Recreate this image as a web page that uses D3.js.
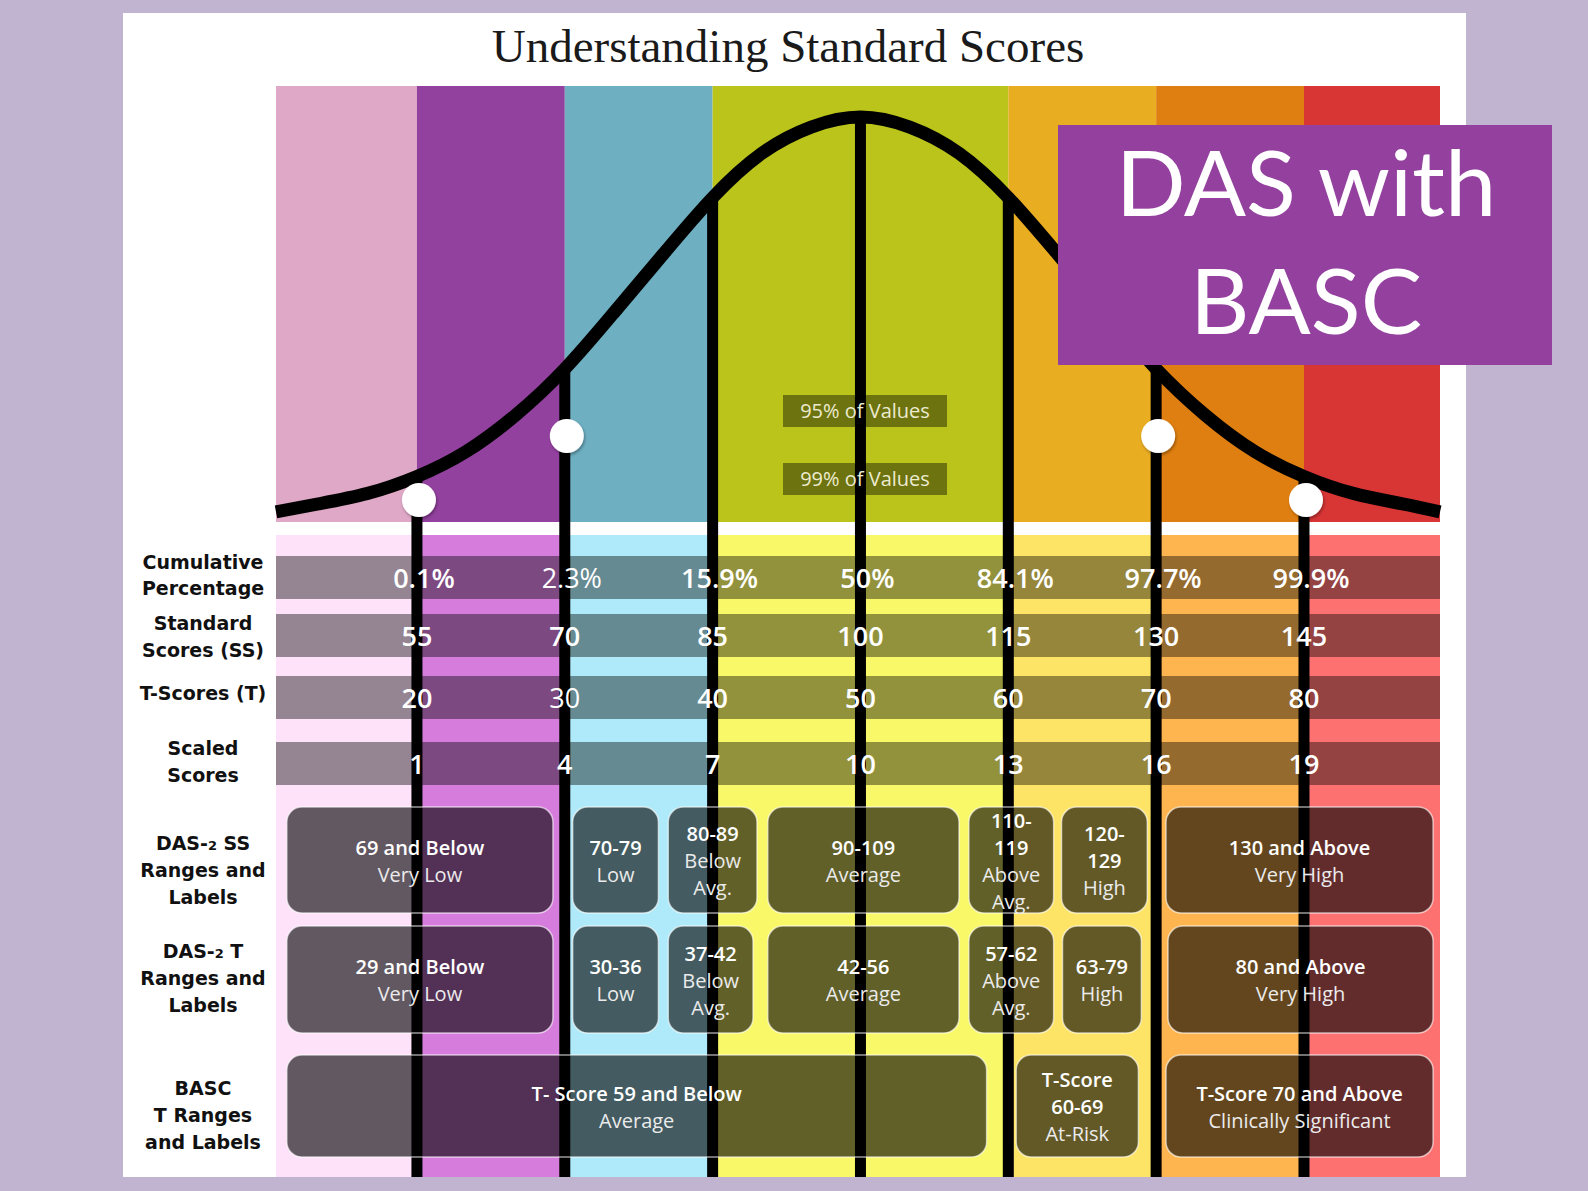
<!DOCTYPE html>
<html><head><meta charset="utf-8">
<script src="https://cdn.jsdelivr.net/npm/d3@7"></script>
<style>html,body{margin:0;padding:0;background:#c1b4d0;} svg{display:block}</style>
</head><body><svg id="c" width="1588" height="1191"></svg>
<script>
// ---------------- DATA ----------------
const title = "Understanding Standard Scores";
const badge = ["DAS with", "BASC"];
const bandEdges = [40.7, 55, 70, 85, 115, 130, 145, 158.8];
const topColors = ["#dea8c6", "#93419f", "#6eafc2", "#bac41b", "#e9ad22", "#e07f11", "#d83535"];
const bottomColors = ["#fde2fa", "#d57cdc", "#aeeaf9", "#f9f868", "#fee466", "#feb54f", "#fe7171"];
const curveScores = [40.7, 45, 50, 55, 60, 65, 70, 75, 80, 85, 90, 95, 100, 105, 110, 115, 120, 125, 130, 135, 140, 145, 150, 155, 158.8];
const curveHeights = [0.02, 0.04, 0.066, 0.108, 0.17, 0.26, 0.375, 0.515, 0.66, 0.80, 0.91, 0.975, 1.0, 0.975, 0.91, 0.80, 0.66, 0.515, 0.375, 0.26, 0.17, 0.108, 0.066, 0.04, 0.02];
const markerScores = [55, 70, 85, 100, 115, 130, 145];
const cumulative = ["0.1%", "2.3%", "15.9%", "50%", "84.1%", "97.7%", "99.9%"];
const standardScores = ["55", "70", "85", "100", "115", "130", "145"];
const tScores = ["20", "30", "40", "50", "60", "70", "80"];
const scaledScores = ["1", "4", "7", "10", "13", "16", "19"];
const intervals = [
  {label: "95% of Values", lo: 70, hi: 130},
  {label: "99% of Values", lo: 55, hi: 145}
];
const rowLabels = [["Cumulative", "Percentage"], ["Standard", "Scores (SS)"], ["T-Scores (T)"], ["Scaled", "Scores"]];
const rangeRowLabels = [["DAS-2 SS", "Ranges and", "Labels"], ["DAS-2 T", "Ranges and", "Labels"], ["BASC", "T Ranges", "and Labels"]];
const das2SS = [
  {lo: 41.8, hi: 68.8, main: ["69 and Below"], sub: ["Very Low"]},
  {lo: 70.8, hi: 79.5, main: ["70-79"], sub: ["Low"]},
  {lo: 80.5, hi: 89.5, main: ["80-89"], sub: ["Below", "Avg."]},
  {lo: 90.6, hi: 110.0, main: ["90-109"], sub: ["Average"]},
  {lo: 111.0, hi: 119.6, main: ["110-", "119"], sub: ["Above", "Avg."]},
  {lo: 120.4, hi: 129.1, main: ["120-", "129"], sub: ["High"]},
  {lo: 131.0, hi: 158.1, main: ["130 and Above"], sub: ["Very High"]}
];
const das2T = [
  {lo: 41.8, hi: 68.8, main: ["29 and Below"], sub: ["Very Low"]},
  {lo: 70.8, hi: 79.5, main: ["30-36"], sub: ["Low"]},
  {lo: 80.5, hi: 89.1, main: ["37-42"], sub: ["Below", "Avg."]},
  {lo: 90.6, hi: 110.0, main: ["42-56"], sub: ["Average"]},
  {lo: 111.0, hi: 119.6, main: ["57-62"], sub: ["Above", "Avg."]},
  {lo: 120.5, hi: 128.5, main: ["63-79"], sub: ["High"]},
  {lo: 131.2, hi: 158.1, main: ["80 and Above"], sub: ["Very High"]}
];
const basc = [
  {lo: 41.8, hi: 112.8, main: ["T- Score 59 and Below"], sub: ["Average"]},
  {lo: 115.8, hi: 128.2, main: ["T-Score", "60-69"], sub: ["At-Risk"]},
  {lo: 131.0, hi: 158.1, main: ["T-Score 70 and Above"], sub: ["Clinically Significant"]}
];

// ---------------- LAYOUT ----------------
const svg = d3.select("#c");
const x = d3.scaleLinear().domain([bandEdges[0], bandEdges[bandEdges.length - 1]]).range([276, 1440]);
const yCurve = d3.scaleLinear().domain([0, 1]).range([520, 117]);
const topY0 = 86, topY1 = 522, botY0 = 535, botY1 = 1177;
const rowTops = [556, 614, 676, 742], rowH = 43;
const boxRows = [[807, 913], [926, 1033], [1055, 1157]];
const numFont = "'Open Sans', sans-serif";
const labFont = "'DejaVu Sans', sans-serif";

const defs = svg.append("defs");
const sh = defs.append("filter").attr("id", "sh").attr("x", "-50%").attr("y", "-50%").attr("width", "200%").attr("height", "200%");
sh.append("feDropShadow").attr("dx", 1).attr("dy", 2).attr("stdDeviation", 1.8).attr("flood-color", "#000").attr("flood-opacity", 0.35);

// background + card
svg.append("rect").attr("width", 1588).attr("height", 1191).attr("fill", "#c1b4d0");
svg.append("rect").attr("x", 123).attr("y", 13).attr("width", 1343).attr("height", 1164).attr("fill", "#fff");

// title
svg.append("text").attr("x", 788).attr("y", 62).attr("text-anchor", "middle")
  .attr("font-family", "'Liberation Serif', serif").attr("font-size", 47).attr("fill", "#1a1a1a").text(title);

// columns
const cols = d3.range(bandEdges.length - 1);
svg.append("g").selectAll("rect").data(cols).join("rect")
  .attr("x", i => x(bandEdges[i])).attr("width", i => x(bandEdges[i + 1]) - x(bandEdges[i]))
  .attr("y", topY0).attr("height", topY1 - topY0).attr("fill", i => topColors[i]);
svg.append("g").selectAll("rect").data(cols).join("rect")
  .attr("x", i => x(bandEdges[i])).attr("width", i => x(bandEdges[i + 1]) - x(bandEdges[i]))
  .attr("y", botY0).attr("height", botY1 - botY0).attr("fill", i => bottomColors[i]);

// row bands
svg.append("g").selectAll("rect").data(rowTops).join("rect")
  .attr("x", x.range()[0]).attr("width", x.range()[1] - x.range()[0])
  .attr("y", d => d).attr("height", rowH).attr("fill", "#000").attr("opacity", 0.41);

const lightSet = new Set(["2.3%", "30"]);
function numRow(vals, top, dx) {
  svg.append("g").selectAll("text").data(vals).join("text")
    .attr("x", (d, i) => x(markerScores[i]) + dx).attr("y", top + rowH / 2 + 10)
    .attr("text-anchor", "middle").attr("font-family", numFont).attr("font-size", 27)
    .attr("font-weight", d => lightSet.has(d) ? 400 : 600).attr("fill", "#fff").text(d => d);
}

// vertical lines
const hAt = s => curveHeights[curveScores.indexOf(s)];
svg.append("g").selectAll("line").data(markerScores).join("line")
  .attr("x1", d => x(d)).attr("x2", d => x(d))
  .attr("y1", d => yCurve(hAt(d))).attr("y2", botY1)
  .attr("stroke", "#000").attr("stroke-width", 11);

// curve
const line = d3.line().x((d, i) => x(curveScores[i])).y(d => yCurve(d)).curve(d3.curveNatural);
svg.append("path").attr("d", line(curveHeights)).attr("fill", "none").attr("stroke", "#000").attr("stroke-width", 13);

// intervals
const intY = [436, 500], labY = [[395, 427], [463, 495]];
intervals.forEach((iv, k) => {
  const g = svg.append("g");
  g.append("rect").attr("x", 783).attr("y", labY[k][0]).attr("width", 164).attr("height", labY[k][1] - labY[k][0])
    .attr("fill", "#000").attr("opacity", 0.41);
  g.append("text").attr("x", 865).attr("y", (labY[k][0] + labY[k][1]) / 2 + 7).attr("text-anchor", "middle")
    .attr("font-family", numFont).attr("font-size", 20).attr("fill", "#ecebcf").text(iv.label);
  g.append("line").attr("x1", x(iv.lo)).attr("x2", x(iv.hi)).attr("y1", intY[k]).attr("y2", intY[k])
    .attr("stroke", "#fff").attr("stroke-width", 6).attr("filter", "url(#sh)");
  g.selectAll("circle").data([iv.lo, iv.hi]).join("circle")
    .attr("cx", d => x(d) + 2).attr("cy", intY[k]).attr("r", 17).attr("fill", "#fff").attr("filter", "url(#sh)");
});

numRow(cumulative, rowTops[0], 7);
numRow(standardScores, rowTops[1], 0);
numRow(tScores, rowTops[2], 0);
numRow(scaledScores, rowTops[3], 0);

// range boxes
function boxRow(data, r) {
  const [y0, y1] = boxRows[r], cy = (y0 + y1) / 2;
  const g = svg.append("g");
  data.forEach(b => {
    const bx0 = x(b.lo), bx1 = x(b.hi), cx = (bx0 + bx1) / 2;
    g.append("rect").attr("x", bx0).attr("y", y0).attr("width", bx1 - bx0).attr("height", y1 - y0)
      .attr("rx", 15).attr("fill", "rgba(0,0,0,0.61)").attr("stroke", "rgba(255,255,255,0.6)").attr("stroke-width", 1.5);
    const lines = b.main.map(t => ({t, bold: true})).concat(b.sub.map(t => ({t, bold: false})));
    const n = lines.length;
    lines.forEach((l, i) => {
      g.append("text").attr("x", cx).attr("y", cy + (i - (n - 1) / 2) * 27 + 8).attr("text-anchor", "middle")
        .attr("font-family", numFont).attr("font-size", 20).attr("font-weight", l.bold ? 600 : 400)
        .attr("fill", l.bold ? "#ffffff" : "#ebebeb").text(l.t);
    });
  });
}
boxRow(das2SS, 0);
boxRow(das2T, 1);
boxRow(basc, 2);

// row labels
const labelCY = [575, 636.5, 693, 761.5];
const rangeLabelCY = [870, 978, 1115];
function labelBlock(lines, cy, lh) {
  const n = lines.length;
  lines.forEach((t, i) => {
    const tx = svg.append("text").attr("x", 203).attr("y", cy + (i - (n - 1) / 2) * lh + 7)
      .attr("text-anchor", "middle").attr("font-family", labFont).attr("font-weight", "bold")
      .attr("font-size", 19).attr("fill", "#111");
    const m = t.match(/^(DAS-)2(.*)$/);
    if (m) {
      tx.append("tspan").text(m[1]);
      tx.append("tspan").attr("font-size", 13).text("2");
      tx.append("tspan").text(m[2]);
    } else tx.text(t);
  });
}
rowLabels.forEach((l, i) => labelBlock(l, labelCY[i], 26.5));
rangeRowLabels.forEach((l, i) => labelBlock(l, rangeLabelCY[i], 27));

// badge
svg.append("rect").attr("x", 1058).attr("y", 125).attr("width", 494).attr("height", 240).attr("fill", "#93409e");
svg.append("g").selectAll("text").data(badge).join("text")
  .attr("x", 1306).attr("y", (d, i) => [216, 334][i]).attr("text-anchor", "middle")
  .attr("font-family", "Lato, sans-serif").attr("font-size", 92).attr("fill", "#fff").text(d => d);
</script></body></html>
